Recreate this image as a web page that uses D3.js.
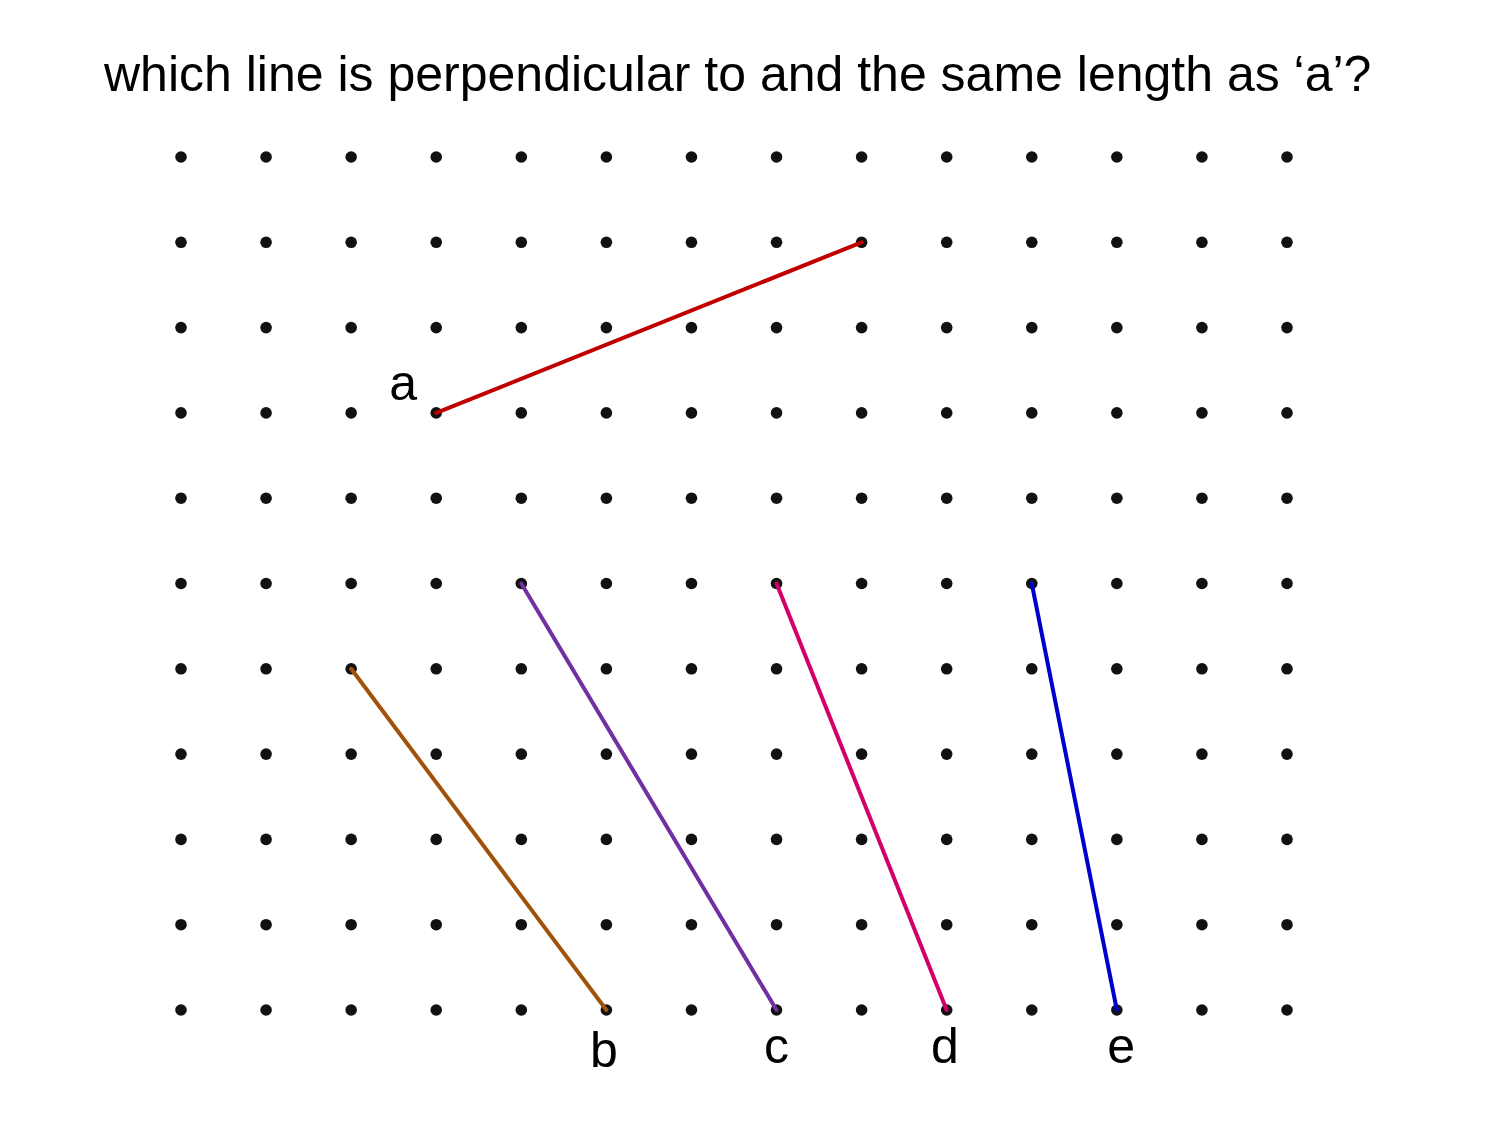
<!DOCTYPE html>
<html>
<head>
<meta charset="utf-8">
<script src="https://cdn.jsdelivr.net/npm/d3@7"></script>
<style>
  body { margin: 0; background: #fff; }
  text { font-family: "Liberation Sans", Arial, sans-serif; fill: #000; }
</style>
</head>
<body>
<svg id="svg1"></svg>
<script>
// grid size (columns x rows of dots)
var cols = d3.range(14);
var rows = d3.range(11);

// segments in grid units: [col0, row0, col1, row1]
var names = ["a", "b", "c", "d", "e"];
var segments = [
  [3, 3, 8, 1],
  [2, 6, 5, 10],
  [4, 5, 7, 10],
  [7, 5, 9, 10],
  [10, 5, 11, 10]
];
var colors = ["#c00000", "#a0520a", "#7030a0", "#d4006a", "#0000cc"];
// label anchor (baseline) in grid units
var labelPos = [
  [2.61, 2.85],
  [4.97, 10.67],
  [7.0, 10.62],
  [8.98, 10.62],
  [11.05, 10.62]
];

var width = 1500, height = 1125;

var svg = d3.select("#svg1")
  .attr("width", width)
  .attr("height", height);

var x = d3.scaleLinear()
  .domain([0, 13])
  .range([181, 1287]);

var y = d3.scaleLinear()
  .domain([0, 10])
  .range([157, 1010]);

svg.append("text")
  .attr("x", 104)
  .attr("y", 91)
  .style("font-size", "50px")
  .text("which line is perpendicular to and the same length as \u2018a\u2019?");

// dots
var grid = [];
rows.forEach(function (r) {
  cols.forEach(function (c) { grid.push([c, r]); });
});

svg.append("g")
  .selectAll("circle")
  .data(grid)
  .enter()
  .append("circle")
    .attr("cx", function (d) { return x(d[0]); })
    .attr("cy", function (d) { return y(d[1]); })
    .attr("r", 5.8)
    .style("fill", "#111");

// lines
svg.append("g")
  .selectAll("line")
  .data(segments)
  .enter()
  .append("line")
    .attr("x1", function (d) { return x(d[0]); })
    .attr("y1", function (d) { return y(d[1]); })
    .attr("x2", function (d) { return x(d[2]); })
    .attr("y2", function (d) { return y(d[3]); })
    .style("stroke", function (d, i) { return colors[i]; })
    .style("stroke-width", 4)
    .style("stroke-linecap", "round");

// labels
svg.append("g")
  .selectAll("text")
  .data(names)
  .enter()
  .append("text")
    .attr("x", function (d, i) { return x(labelPos[i][0]); })
    .attr("y", function (d, i) { return y(labelPos[i][1]); })
    .style("text-anchor", "middle")
    .style("font-size", "50px")
    .text(function (d) { return d; });
</script>
</body>
</html>
